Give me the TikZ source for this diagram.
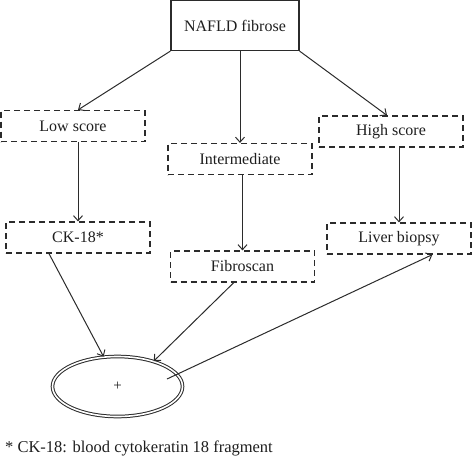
\documentclass[tikz,border=0pt]{standalone}
\usepackage{fontspec}
\setmainfont{Liberation Serif}
\usetikzlibrary{arrows.meta,shapes.geometric,calc}
\definecolor{linec}{HTML}{2B2B2B}
\definecolor{textc}{HTML}{1E1E1E}
\begin{document}
\begin{tikzpicture}[x=1pt,y=-1pt,
  lbl/.style={font=\fontsize{16}{19}\selectfont, text=textc},
  dbox/.style={lbl, draw=linec, line width=1.2pt, dash pattern=on 6pt off 4pt,
    minimum width=144pt, minimum height=31pt, inner sep=0pt},
  sbox/.style={lbl, draw=linec, line width=1.2pt, minimum width=128pt,
    minimum height=50pt, inner sep=0pt},
  arr/.style={draw=linec, line width=1pt, -{Straight Barb[length=5pt,width=9pt]}},
]
\useasboundingbox (0,0) rectangle (474,459);
\node[sbox] (nafld) at (235,25.5) {NAFLD fibrose};
\node[dbox] (low) at (73,126) {Low score};
\node[dbox] (inter) at (240,159) {Intermediate};
\node[dbox] (high) at (391,131.5) {High score};
\node[dbox] (ck) at (78,237.5) {CK-18*};
\node[dbox] (fib) at (242.5,266.5) {Fibroscan};
\node[dbox] (liver) at (399,238.5) {Liver biopsy};
\node[ellipse, draw=linec, double, double distance=1.6pt, line width=1pt,
  minimum width=130pt, minimum height=60pt, inner sep=0pt,
  font=\fontsize{15}{17}\selectfont, text=textc] (res) at (117.5,386.5) {+};
\coordinate (src) at (167,379);
\node[anchor=base west, inner sep=0pt, font=\fontsize{16.5}{19}\selectfont, text=textc]
  (note) at (5,452) {* CK-18: blood cytokeratin 18 fragment};

\draw[arr] (nafld.south west) -- ($(low.north)+(5,0)$);
\draw[arr] (nafld.south -| inter.north) -- (inter.north);
\draw[arr] (nafld.south east) -- ($(high.north)+(-4,0)$);
\draw[arr] (ck.north |- low.south) -- (ck.north);
\draw[arr] (fib.north |- inter.south) -- (fib.north);
\draw[arr] (liver.north |- high.south) -- (liver.north);
\draw[arr] ($(ck.south west)!0.3!(ck.south east)$) -- (res.115);
\draw[arr] ($(fib.south west)!0.44!(fib.south east)$) -- (res.35);
\draw[arr] (src) -- ($(liver.south west)!0.73!(liver.south east)$);
\end{tikzpicture}
\end{document}
